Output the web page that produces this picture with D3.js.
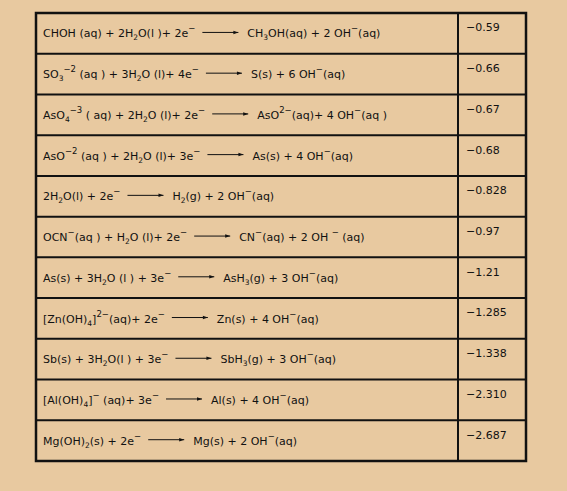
<!DOCTYPE html>
<html><head><meta charset="utf-8">
<script src="https://cdn.jsdelivr.net/npm/d3@7"></script>
<style>body{margin:0;background:#e8c9a0;}svg{display:block}</style>
</head><body>
<script>
const leftSides = [
 "CHOH (aq) + 2H{_2}O(l )+ 2e{^−}",
 "SO{_3}{^−2} (aq ) + 3H{_2}O (l)+ 4e{^−}",
 "AsO{_4}{^−3} ( aq) + 2H{_2}O (l)+ 2e{^−}",
 "AsO{^−2} (aq ) + 2H{_2}O (l)+ 3e{^−}",
 "2H{_2}O(l) + 2e{^−}",
 "OCN{^−}(aq ) + H{_2}O (l)+ 2e{^−}",
 "As(s) + 3H{_2}O (l ) + 3e{^−}",
 "[Zn(OH){_4}]{^2−}(aq)+ 2e{^−}",
 "Sb(s) + 3H{_2}O(l ) + 3e{^−}",
 "[Al(OH){_4}]{^−} (aq)+ 3e{^−}",
 "Mg(OH){_2}(s) + 2e{^−}"
];
const rightSides = [
 "CH{_3}OH(aq) + 2 OH{^−}(aq)",
 "S(s) + 6 OH{^−}(aq)",
 "AsO{^2−}(aq)+ 4 OH{^−}(aq )",
 "As(s) + 4 OH{^−}(aq)",
 "H{_2}(g) + 2 OH{^−}(aq)",
 "CN{^−}(aq) + 2 OH {^−} (aq)",
 "AsH{_3}(g) + 3 OH{^−}(aq)",
 "Zn(s) + 4 OH{^−}(aq)",
 "SbH{_3}(g) + 3 OH{^−}(aq)",
 "Al(s) + 4 OH{^−}(aq)",
 "Mg(s) + 2 OH{^−}(aq)"
];
const potentials = ["−0.59","−0.66","−0.67","−0.68","−0.828","−0.97","−1.21","−1.285","−1.338","−2.310","−2.687"];

const W=567,H=491;
const svg=d3.select("body").append("svg").attr("width",W).attr("height",H);
svg.append("rect").attr("width",W).attr("height",H).attr("fill","#e8c9a0");
const x0=36,x1=526,xd=458,y0=13,y1=461;
const y=d3.scaleBand().domain(d3.range(potentials.length)).range([y0,y1]);
const font="'DejaVu Sans', sans-serif";
const fs=11;

svg.append("defs").append("marker").attr("id","ah").attr("viewBox","0 0 10 10")
 .attr("refX",10).attr("refY",5).attr("markerWidth",12).attr("markerHeight",5)
 .attr("markerUnits","userSpaceOnUse").attr("orient","auto")
 .append("path").attr("d","M0,1.5 L10,5 L0,8.5 Z").attr("fill","#111");

function rich(g,str,xx,yy){
  const t=g.append("text").attr("x",xx).attr("y",yy).attr("font-family",font)
    .attr("font-size",fs).attr("fill","#111");
  const re=/\{([_^])([^}]*)\}|([^{]+)/g; let m, shift=0;
  while((m=re.exec(str))){
    if(m[3]){ t.append("tspan").attr("dy",-shift).attr("font-size",fs).text(m[3]); shift=0; }
    else { const d=m[1]==="_"?3:-6; t.append("tspan").attr("dy",d-shift).attr("font-size",m[1]==="_"?7.5:8.5).text(m[2]); shift=d; }
  }
  return t;
}

const rows=svg.selectAll("g.row").data(potentials).join("g").attr("class","row");
rows.each(function(p,i){
  const g=d3.select(this), top=y(i), base=top+y.bandwidth()*0.6;
  const lt=rich(g,leftSides[i],43,base);
  const lx=43+lt.node().getComputedTextLength()+7;
  g.append("line").attr("x1",lx).attr("x2",lx+36).attr("y1",base-5).attr("y2",base-5)
    .attr("stroke","#111").attr("stroke-width",1).attr("marker-end","url(#ah)");
  rich(g,rightSides[i],lx+45,base);
  g.append("text").attr("x",466).attr("y",top+y.bandwidth()*0.45).attr("font-family",font)
    .attr("font-size",fs).attr("fill","#111").text(p);
});

svg.selectAll("line.h").data(d3.range(1,potentials.length)).join("line")
  .attr("x1",x0).attr("x2",x1).attr("y1",d=>y(d)).attr("y2",d=>y(d))
  .attr("stroke","#111").attr("stroke-width",2);
svg.append("line").attr("x1",xd).attr("x2",xd).attr("y1",y0).attr("y2",y1).attr("stroke","#111").attr("stroke-width",2);
svg.append("rect").attr("x",x0).attr("y",y0).attr("width",x1-x0).attr("height",y1-y0)
  .attr("fill","none").attr("stroke","#111").attr("stroke-width",2.5);
</script>
</body></html>
